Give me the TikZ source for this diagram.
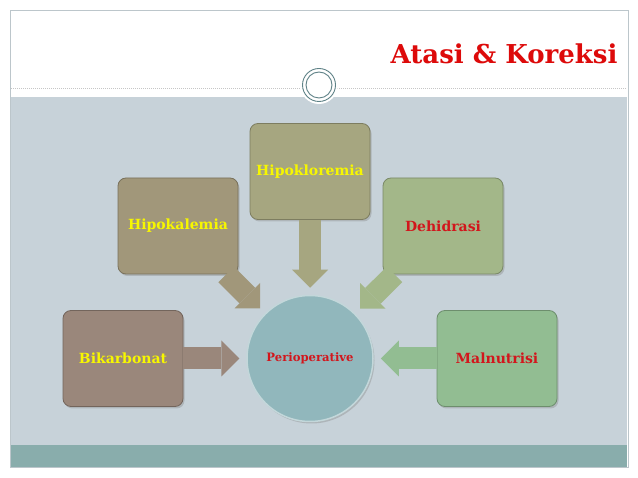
\documentclass[tikz,border=0pt]{standalone}
\usepackage{fontspec}
\setmainfont{DejaVu Serif}
\usetikzlibrary{arrows.meta,shadows}

\definecolor{panelcol}{HTML}{C7D2D9}
\definecolor{bandcol}{HTML}{89ADAC}
\definecolor{framecol}{HTML}{BCC6CB}
\definecolor{ringcol}{HTML}{5F8287}
\definecolor{bikcol}{HTML}{9A877B}
\definecolor{kalcol}{HTML}{A1977A}
\definecolor{klorcol}{HTML}{A6A680}
\definecolor{dehcol}{HTML}{A3B789}
\definecolor{malcol}{HTML}{92BD92}
\definecolor{pericol}{HTML}{91B7BC}
\definecolor{titlered}{HTML}{DD0A0A}
\definecolor{boxred}{HTML}{D2161C}
\definecolor{boxyel}{HTML}{F7F700}

\begin{document}
\begin{tikzpicture}[x=1pt, y=-1pt,
    box/.style={rectangle, rounded corners=8pt, minimum width=120pt, minimum height=96pt,
        draw=#1!75!black, line width=0.8pt, fill=#1,
        drop shadow={opacity=0.35, shadow xshift=1.5pt, shadow yshift=-2pt},
        font=\bfseries\fontsize{14}{16}\selectfont},
    flow/.style={draw=#1, line width=22pt, shorten >=7pt,
        -{Triangle[width=36pt, length=18pt, line width=0pt]}}]
    \useasboundingbox[fill=white] (0,0) rectangle (638,478);

    % slide frame
    \fill[panelcol] (11,97) rectangle (627,445);
    \fill[bandcol] (11,445) rectangle (627,467);
    \draw[framecol, line width=0.8pt] (10,10) rectangle (628,467);
    \draw[gray!45, line width=1pt, dash pattern=on 1pt off 1pt] (11,89) -- (627,89);
    \node[circle, fill=white, inner sep=0pt, minimum size=38pt] (knob) at (319,85) {};
    \draw[ringcol, line width=0.9pt] (knob.center) circle[radius=16.5pt] circle[radius=13pt];

    \node[anchor=base east, text=titlered, font=\bfseries\fontsize{26}{30}\selectfont]
        (title) at (621,64) {Atasi \& Koreksi};

    % boxes
    \node[box=bikcol, text=boxyel] (bik) at (123,358.5) {Bikarbonat};
    \node[box=kalcol, text=boxyel] (kal) at (178,226) {Hipokalemia};
    \node[box=klorcol, text=boxyel] (klor) at (310,171.5) {Hipokloremia};
    \node[box=dehcol, text=boxred] (dehid) at (443,226) {Dehidrasi};
    \node[box=malcol, text=boxred] (maln) at (497,358.5) {Malnutrisi};
    \node[circle, minimum size=126pt, fill=pericol, draw=pericol!55!white, line width=1.5pt,
        drop shadow={opacity=0.35, shadow xshift=1.5pt, shadow yshift=-2pt},
        text=boxred, font=\bfseries\fontsize{11.6}{14}\selectfont] (peri) at (310,358.5) {Perioperative};

    % arrows
    \draw[flow=bikcol] (bik) -- (peri);
    \draw[flow=kalcol] (kal) -- (peri);
    \draw[flow=klorcol] (klor) -- (peri);
    \draw[flow=dehcol] (dehid) -- (peri);
    \draw[flow=malcol] (maln) -- (peri);
\end{tikzpicture}
\end{document}
